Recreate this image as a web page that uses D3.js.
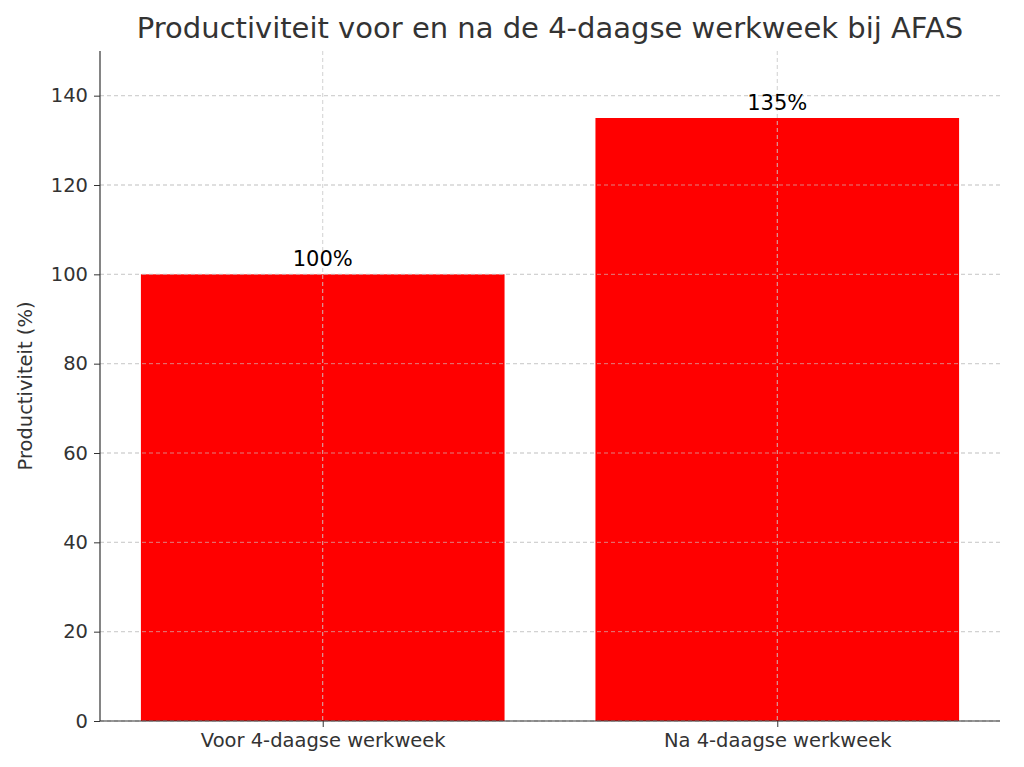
<!DOCTYPE html>
<html><head><meta charset="utf-8">
<script src="https://cdn.jsdelivr.net/npm/d3@7"></script>
<style>body{margin:0;background:#fff}svg{font-family:"DejaVu Sans",sans-serif}</style>
</head><body><svg id="c" width="1024" height="767"></svg>
<script>
const categories = ["Voor 4-daagse werkweek", "Na 4-daagse werkweek"];
const values = [100, 135];
const valueLabels = ["100%", "135%"];
const yTicks = [0, 20, 40, 60, 80, 100, 120, 140];
const title = "Productiviteit voor en na de 4-daagse werkweek bij AFAS";
const yTitle = "Productiviteit (%)";

const svg = d3.select("#c");
const L = 100, R = 1000, T = 51, B = 721;
const x = d3.scaleLinear().domain([-0.49, 1.49]).range([L, R]);
const y = d3.scaleLinear().domain([0, 150]).range([B, T]);
const bw = x(0.8) - x(0);

// grid
svg.append("g").selectAll("line").data(yTicks).join("line")
  .attr("x1", L).attr("x2", R).attr("y1", d => y(d)).attr("y2", d => y(d))
  .attr("stroke", "#cccccc").attr("stroke-dasharray", "4,3").attr("stroke-width", 0.9);

// bars
svg.append("g").selectAll("rect").data(values).join("rect")
  .attr("x", (d, i) => x(i) - bw / 2).attr("width", bw)
  .attr("y", d => y(d)).attr("height", d => B - y(d)).attr("fill", "#ff0000");

// vertical grid (on top like matplotlib default? drawn over bars)
svg.append("g").selectAll("line").data(categories).join("line")
  .attr("x1", (d, i) => x(i)).attr("x2", (d, i) => x(i)).attr("y1", T).attr("y2", B)
  .attr("stroke", "#cccccc").attr("stroke-dasharray", "4,3").attr("stroke-width", 0.9);
svg.append("g").selectAll("line").data(yTicks).join("line")
  .attr("x1", L).attr("x2", R).attr("y1", d => y(d)).attr("y2", d => y(d))
  .attr("stroke", "#cccccc").attr("stroke-opacity", 0.7).attr("stroke-dasharray", "4,3").attr("stroke-width", 0.9);

// value labels
svg.append("g").selectAll("text").data(values).join("text")
  .attr("x", (d, i) => x(i)).attr("y", d => y(d) - 8).attr("text-anchor", "middle")
  .attr("font-size", 21).attr("fill", "#000").text((d, i) => valueLabels[i]);

// axes
const ya = d3.axisLeft(y).tickValues(yTicks).tickSize(6).tickPadding(6);
const gy = svg.append("g").attr("transform", `translate(${L},0)`).call(ya);
gy.select(".domain").remove();
gy.selectAll("text").attr("font-size", 19.5).attr("fill", "#333").attr("font-family", "DejaVu Sans");
gy.selectAll("line").attr("stroke", "#333");
const xa = d3.axisBottom(x).tickValues([0, 1]).tickFormat((d) => categories[d]).tickSize(6).tickPadding(6);
const gx = svg.append("g").attr("transform", `translate(0,${B})`).call(xa);
gx.select(".domain").remove();
gx.selectAll("text").attr("font-size", 19.5).attr("fill", "#333").attr("font-family", "DejaVu Sans");
gx.selectAll("line").attr("stroke", "#333");

svg.append("line").attr("x1", L).attr("x2", L).attr("y1", T).attr("y2", B).attr("stroke", "#333").attr("stroke-width", 1.2);
svg.append("line").attr("x1", L).attr("x2", R).attr("y1", B).attr("y2", B).attr("stroke", "#333").attr("stroke-width", 1.2);

svg.append("text").attr("x", 550).attr("y", 38).attr("text-anchor", "middle")
  .attr("font-size", 29).attr("fill", "#333").text(title);
svg.append("text").attr("transform", "translate(32,386) rotate(-90)").attr("text-anchor", "middle")
  .attr("font-size", 19.5).attr("fill", "#333").text(yTitle);
</script></body></html>
